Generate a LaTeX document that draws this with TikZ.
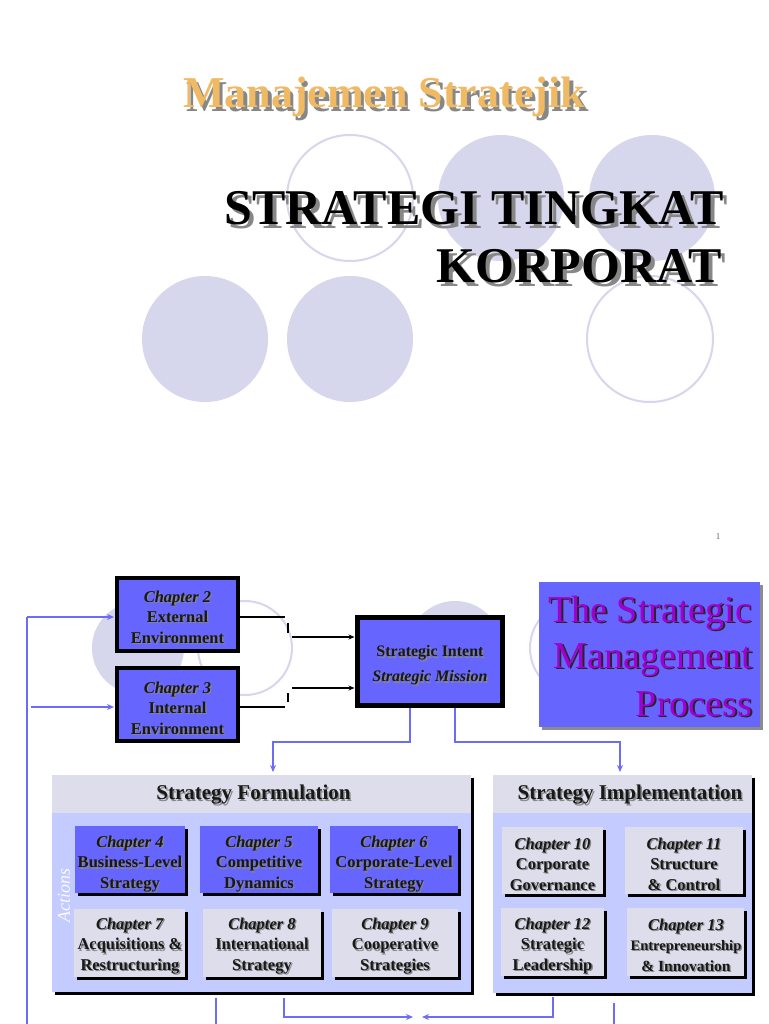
\documentclass[tikz,border=0pt]{standalone}
\usepackage{fontspec}
\setmainfont{Liberation Serif}
\usetikzlibrary{arrows.meta,shadows}
\definecolor{circ}{RGB}{214,214,236}
\definecolor{boxblue}{RGB}{102,102,255}
\definecolor{boxgray}{RGB}{221,221,236}
\definecolor{panelblue}{RGB}{196,204,255}
\definecolor{linkblue}{RGB}{108,108,250}
\definecolor{titleorange}{RGB}{240,186,100}
\definecolor{procpurple}{RGB}{160,0,210}
\definecolor{txtdark}{RGB}{24,24,24}
\definecolor{shgray}{RGB}{135,135,135}
\newcommand\shtxt[6]{%
  \node[#3,text=#4,shift={(#5)}] at (#2) {#6};
  \node[#3] (#1) at (#2) {#6};}
\begin{document}
\begin{tikzpicture}[x=1pt,y=-1pt,
  every node/.style={inner sep=0pt,outer sep=0pt},
  olcirc/.style={draw=circ,line width=2pt},
  ttl/.style={font=\fontsize{44}{50}\selectfont\bfseries,text=titleorange},
  bigt/.style={font=\fontsize{50}{56}\selectfont\bfseries,text=black},
  pgnum/.style={font=\fontsize{9}{9}\selectfont,text=black!60},
  chbox/.style={draw=black,line width=4pt,fill=boxblue},
  chtxt/.style={align=center,font=\fontsize{16.5}{20.5}\selectfont\bfseries,text=txtdark},
  chtxtsm/.style={chtxt,font=\fontsize{15}{20.5}\selectfont\bfseries},
  tbt/.style={font=\fontsize{38}{38}\selectfont,text=procpurple},
  hdr/.style={font=\fontsize{21}{21}\selectfont\bfseries,text=txtdark},
  bshadow/.style={drop shadow={shadow xshift=3pt,shadow yshift=-3pt,fill=black,opacity=1}},
  panel/.style={fill=panelblue,bshadow},
  pbox/.style={fill=boxblue,bshadow},
  gbox/.style={fill=boxgray,bshadow},
  blu/.style={draw=linkblue,line width=2pt},
  bluarr/.style={blu,-{Stealth[length=7pt,width=6pt]},shorten >=3pt},
  blk/.style={draw=black,line width=2pt},
  blkarr/.style={blk,-{Stealth[length=6pt,width=5pt]},shorten >=3pt},
  tick/.style={draw=black,line width=2.5pt}
]
\useasboundingbox (0,0) rectangle (768,1024);
\clip (0,0) rectangle (768,1024);
\fill[white] (0,0) rectangle (768,1024);

% ---------- slide 1 ----------
\draw[olcirc] (350,198) circle[radius=63pt];
\fill[circ] (501,198) circle[radius=63pt];
\fill[circ] (652,198) circle[radius=63pt];
\fill[circ] (205,339) circle[radius=63pt];
\fill[circ] (350,339) circle[radius=63pt];
\draw[olcirc] (650,339) circle[radius=63pt];

\shtxt{mtitle}{183,108}{ttl,anchor=base west}{shgray}{3.5pt,-4pt}{Manajemen Stratejik}
\shtxt{big1}{724,225}{bigt,anchor=base east}{shgray}{4pt,-4pt}{STRATEGI TINGKAT}
\shtxt{big2}{722,282}{bigt,anchor=base east}{shgray}{4pt,-4pt}{KORPORAT}
\node[pgnum] (pg) at (718,537) {1};

% ---------- slide 2 ----------
\fill[circ] (138,648) circle[radius=46pt];
\draw[olcirc] (245,648) circle[radius=47pt];
\fill[circ] (455,648) circle[radius=47pt];
\draw[olcirc] (577,648) circle[radius=47pt];

% boxes (named, drawn first so connectors can refer to them)
\node[chbox,minimum width=121pt,minimum height=73pt] (ch2) at (177.5,614.5) {};
\node[chbox,minimum width=121pt,minimum height=73pt] (ch3) at (177.5,704.5) {};
\node[chbox,line width=5pt,minimum width=145pt,minimum height=88pt] (si) at (430,661.5) {};
\node[fill=boxblue,minimum width=221pt,minimum height=145pt,
      drop shadow={shadow xshift=3pt,shadow yshift=-3pt,fill=black!45,opacity=1}] (tb) at (649.5,654.5) {};

\node[panel,minimum width=419pt,minimum height=217pt] (form) at (261.5,883.5) {};
\fill[boxgray] (form.north west) rectangle ([yshift=-38pt]form.north east);
\node[panel,minimum width=259pt,minimum height=218pt] (impl) at (622.5,884) {};
\fill[boxgray] (impl.north west) rectangle ([yshift=-38pt]impl.north east);

\node[rotate=90,font=\fontsize{18}{18}\selectfont\itshape,text=white!92!panelblue] (act) at (64,895) {Actions};

% chapter boxes inside panels
\node[pbox,minimum width=110pt,minimum height=67pt] (ch4) at (130,859.5) {};
\node[pbox,minimum width=118pt,minimum height=67pt] (ch5) at (259,859.5) {};
\node[pbox,minimum width=128pt,minimum height=67pt] (ch6) at (394,859.5) {};
\node[gbox,minimum width=111pt,minimum height=68pt] (ch7) at (129.5,943) {};
\node[gbox,minimum width=118pt,minimum height=68pt] (ch8) at (262,943) {};
\node[gbox,minimum width=126pt,minimum height=68pt] (ch9) at (395,943) {};
\node[gbox,minimum width=101pt,minimum height=67pt] (ch10) at (552.5,860.5) {};
\node[gbox,minimum width=118pt,minimum height=67pt] (ch11) at (684,860.5) {};
\node[gbox,minimum width=103pt,minimum height=68pt] (ch12) at (552.5,942) {};
\node[gbox,minimum width=117pt,minimum height=68pt] (ch13) at (685.5,942) {};

% ---------- connectors ----------
\coordinate (fbtop) at (27,617);
\coordinate (fbbot) at (27,1024);
\coordinate (fb3) at (31,707);
\draw[blu] (fbbot) -- (fbtop);
\draw[bluarr] (fbtop) -- ([yshift=-2.5pt]ch2.west);
\draw[bluarr] (fb3) -- ([yshift=-2.5pt]ch3.west);

\coordinate (k1) at (285,617);
\coordinate (t1a) at (288,623);
\coordinate (t1b) at (288,633);
\coordinate (k2) at (292,637);
\draw[blk] ([yshift=-2.5pt]ch2.east) -- (k1);
\draw[tick] (t1a) -- (t1b);
\draw[blkarr] (k2) -- (k2 -| si.west);

\coordinate (k3) at (285,707);
\coordinate (t2a) at (288,693);
\coordinate (t2b) at (288,702);
\coordinate (k4) at (292,688);
\draw[blk] ([yshift=-2.5pt]ch3.east) -- (k3);
\draw[tick] (t2a) -- (t2b);
\draw[blkarr] (k4) -- (k4 -| si.west);

\coordinate (c1) at (273,742);
\coordinate (c2) at (620,742);
\draw[bluarr] ([xshift=-20pt,yshift=-2.5pt]si.south) |- (c1) -- (c1 |- form.north);
\draw[bluarr] ([xshift=25pt,yshift=-2.5pt]si.south) |- (c2) -- (c2 |- impl.north);

\coordinate (m1) at (413,1017);
\coordinate (m2) at (422,1017);
\coordinate (bb1) at (216,1024);
\coordinate (bb2) at (614,1024);
\draw[blu] ([xshift=-45.5pt,yshift=-6pt]form.south) -- (bb1);
\draw[bluarr,shorten >=0pt] ([xshift=22.5pt,yshift=-6pt]form.south) |- (m1);
\draw[bluarr,shorten >=0pt] ([xshift=-69.5pt,yshift=-4pt]impl.south) |- (m2);
\draw[blu] ([xshift=-8.5pt,yshift=-10pt]impl.south) -- (bb2);

% ---------- texts ----------
\shtxt{ch2t}{177.5,617}{chtxt}{shgray}{1.3pt,-1.3pt}{\textit{Chapter 2}\\External\\Environment}
\shtxt{ch3t}{177.5,708}{chtxt}{shgray}{1.3pt,-1.3pt}{\textit{Chapter 3}\\Internal\\Environment}
\node[chtxt,font=\fontsize{16}{25}\selectfont\bfseries,text=shgray,shift={(1.3pt,-1.3pt)}] at (430,665.5) {Strategic Intent\\\textit{Strategic Mission}};
\node[chtxt,font=\fontsize{16}{25}\selectfont\bfseries] (sit) at (430,665.5) {Strategic Intent\\\textit{Strategic Mission}};

\shtxt{tb1}{752,622}{tbt,anchor=base east}{black!85}{1.8pt,-1.8pt}{The Strategic}
\shtxt{tb2}{752,668}{tbt,anchor=base east}{black!85}{1.8pt,-1.8pt}{Management}
\shtxt{tb3}{752,716}{tbt,anchor=base east}{black!85}{1.8pt,-1.8pt}{Process}

\shtxt{formh}{253.5,795}{hdr}{shgray}{1.5pt,-1.5pt}{Strategy Formulation}
\shtxt{implh}{630,795}{hdr}{shgray}{1.5pt,-1.5pt}{Strategy Implementation}

\shtxt{ch4t}{130,864}{chtxt}{shgray}{1.3pt,-1.3pt}{\textit{Chapter 4}\\Business-Level\\Strategy}
\shtxt{ch5t}{259,864}{chtxt}{shgray}{1.3pt,-1.3pt}{\textit{Chapter 5}\\Competitive\\Dynamics}
\shtxt{ch6t}{394,864}{chtxt}{shgray}{1.3pt,-1.3pt}{\textit{Chapter 6}\\Corporate-Level\\Strategy}
\shtxt{ch7t}{130,946}{chtxt}{shgray}{1.3pt,-1.3pt}{\textit{Chapter 7}\\Acquisitions \&\\Restructuring}
\shtxt{ch8t}{262,946}{chtxt}{shgray}{1.3pt,-1.3pt}{\textit{Chapter 8}\\International\\Strategy}
\shtxt{ch9t}{395,946}{chtxt}{shgray}{1.3pt,-1.3pt}{\textit{Chapter 9}\\Cooperative\\Strategies}
\shtxt{ch10t}{552.5,864}{chtxt}{shgray}{1.3pt,-1.3pt}{\textit{Chapter 10}\\Corporate\\Governance}
\shtxt{ch11t}{684,864}{chtxt}{shgray}{1.3pt,-1.3pt}{\textit{Chapter 11}\\Structure\\\& Control}
\shtxt{ch12t}{552.5,946}{chtxt}{shgray}{1.3pt,-1.3pt}{\textit{Chapter 12}\\Strategic\\Leadership}
\shtxt{ch13t}{686,945}{chtxt}{shgray}{1.3pt,-1.3pt}{{\fontsize{16.5}{20.5}\selectfont\textit{Chapter 13}}\\{\fontsize{14.5}{20.5}\selectfont Entrepreneurship}\\{\fontsize{15.5}{20.5}\selectfont \& Innovation}}
\end{tikzpicture}
\end{document}
